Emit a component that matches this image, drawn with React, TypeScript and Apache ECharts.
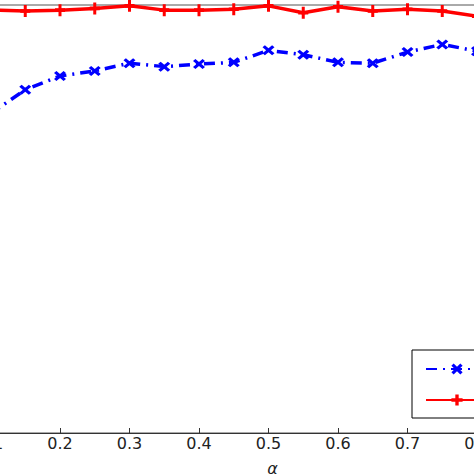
import React, { useEffect, useRef } from "react";
import * as echarts from "echarts";

const alphas = [0.1, 0.15, 0.2, 0.25, 0.3, 0.35, 0.4, 0.45, 0.5, 0.55, 0.6, 0.65, 0.7, 0.75, 0.8];
const redValues = [0.994, 0.993, 0.994, 0.996, 0.999, 0.994, 0.994, 0.995, 0.999, 0.991, 0.998, 0.993, 0.995, 0.993, 0.987];
const blueValues = [0.873, 0.901, 0.917, 0.923, 0.932, 0.928, 0.931, 0.933, 0.947, 0.942, 0.933, 0.932, 0.945, 0.954, 0.946];
const seriesNames = ["Method A", "Method B"];
const xAxisName = "α";

const xSymbol = "path://M0,2 L2,0 L5,3 L8,0 L10,2 L7,5 L10,8 L8,10 L5,7 L2,10 L0,8 L3,5 Z";
const plusSymbol = "path://M3.5,0 H6.5 V3.5 H10 V6.5 H6.5 V10 H3.5 V6.5 H0 V3.5 H3.5 Z";

export default function App() {
  const ref = useRef<HTMLDivElement>(null);
  useEffect(() => {
    if (!ref.current) return;
    const chart = echarts.init(ref.current, undefined, { renderer: "svg" });
    const blueData = alphas.map((a, i) => [a, blueValues[i]]);
    const redData = alphas.map((a, i) => [a, redValues[i]]);
    chart.setOption({
      animation: false,
      backgroundColor: "#ffffff",
      grid: {
        left: -9.5,
        top: 5,
        width: 556,
        height: 428,
        containLabel: false,
        outerBoundsMode: "none",
        show: true,
        borderColor: "#555",
        borderWidth: 1,
        backgroundColor: "transparent",
      },
      xAxis: {
        type: "value",
        min: 0.1,
        max: 0.9,
        interval: 0.1,
        name: xAxisName,
        nameLocation: "middle",
        nameGap: 27,
        nameTextStyle: { fontFamily: "DejaVu Sans", fontSize: 16, color: "#222", fontStyle: "italic", padding: [0, 0, 0, 8] },
        axisLine: { show: true, lineStyle: { color: "#333", width: 1 } },
        axisTick: { show: true, inside: true, length: 5, lineStyle: { color: "#333" } },
        axisLabel: {
          show: true,
          margin: 2,
          fontFamily: "DejaVu Sans",
          fontSize: 16,
          color: "#222",
          showMinLabel: true,
          showMaxLabel: true,
          formatter: (v: number) => v.toFixed(1),
        },
        splitLine: { show: false },
      },
      yAxis: {
        type: "value",
        min: 0.5,
        max: 1.0,
        interval: 0.1,
        axisLine: { show: false },
        axisTick: { show: false },
        axisLabel: { show: false },
        splitLine: { show: false },
      },
      legend: {
        show: true,
        left: 412,
        top: 350,
        orient: "vertical",
        backgroundColor: "#ffffff",
        borderColor: "#000",
        borderWidth: 1,
        padding: [12, 10, 11, 13],
        itemWidth: 62,
        itemHeight: 14,
        itemGap: 17,
        textStyle: { fontFamily: "DejaVu Sans", fontSize: 14, color: "#000" },
        data: seriesNames,
      },
      series: [
        {
          name: seriesNames[0],
          type: "line",
          data: blueData,
          symbol: xSymbol,
          symbolSize: [12, 10],
          showAllSymbol: true,
          clip: false,
          lineStyle: { color: "#0000ff", width: 3.5, type: [11, 6, 2, 6] },
          itemStyle: { color: "#0000ff" },
          z: 2,
        },
        {
          name: seriesNames[1],
          type: "line",
          data: redData,
          symbol: plusSymbol,
          symbolSize: [10, 12],
          showAllSymbol: true,
          clip: false,
          lineStyle: { color: "#ff0000", width: 3.5, type: "solid" },
          itemStyle: { color: "#ff0000" },
          z: 3,
        },
      ],
    });
    return () => chart.dispose();
  }, []);
  return (
    <div
      ref={ref}
      style={{ position: "fixed", left: 0, top: 0, width: 474, height: 474, background: "#fff" }}
    />
  );
}
